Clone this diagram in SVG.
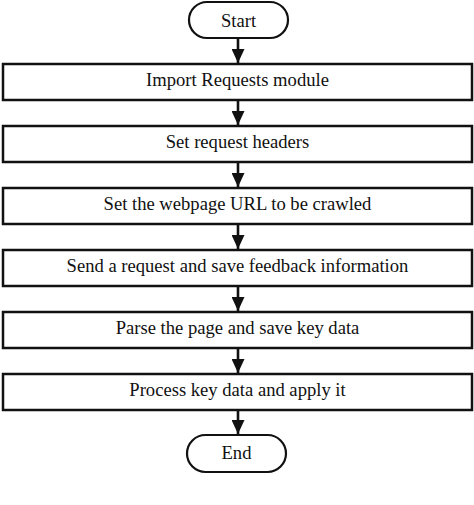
<svg xmlns="http://www.w3.org/2000/svg" width="474" height="505" viewBox="0 0 474 505">
<style>
.box{fill:#fff;stroke:#111;stroke-width:2.5}
.term{fill:#fff;stroke:#111;stroke-width:2.2}
.lbl{font-family:"Liberation Serif","Times New Roman",serif;font-size:18.6px;fill:#111;text-anchor:middle}
.conn{stroke:#111;stroke-width:2.6;fill:none;marker-end:url(#arr)}
</style>
<defs>
<marker id="arr" viewBox="0 0 14 13" refX="14" refY="6.5" markerWidth="14" markerHeight="13" markerUnits="userSpaceOnUse" orient="auto">
<path d="M0,0 L14,6.5 L0,13 z" fill="#111"/>
</marker>
</defs>
<rect width="474" height="505" fill="#fff"/>
<g id="start"><rect class="term" x="189" y="2" width="99" height="36" rx="18"/><text class="lbl" x="238.5" y="26.5">Start</text></g>
<g id="n1"><rect class="box" x="3" y="64" width="469" height="36"/><text class="lbl" x="237.5" y="85.5">Import Requests module</text></g>
<g id="n2"><rect class="box" x="3" y="126" width="469" height="36"/><text class="lbl" x="237.5" y="147.5">Set request headers</text></g>
<g id="n3"><rect class="box" x="3" y="188" width="469" height="36"/><text class="lbl" x="237.5" y="209.5">Set the webpage URL to be crawled</text></g>
<g id="n4"><rect class="box" x="3" y="250" width="469" height="36"/><text class="lbl" x="237.5" y="271.5">Send a request and save feedback information</text></g>
<g id="n5"><rect class="box" x="3" y="312" width="469" height="36"/><text class="lbl" x="237.5" y="333.5">Parse the page and save key data</text></g>
<g id="n6"><rect class="box" x="3" y="374" width="469" height="36"/><text class="lbl" x="237.5" y="395.5">Process key data and apply it</text></g>
<g id="end"><rect class="term" x="187" y="435" width="99" height="37" rx="18.5"/><text class="lbl" x="236.5" y="459">End</text></g>
<g id="connectors">
<path class="conn" d="M238,39 V63"/>
<path class="conn" d="M238,101 V125"/>
<path class="conn" d="M238,163 V187"/>
<path class="conn" d="M238,225 V249"/>
<path class="conn" d="M238,287 V311"/>
<path class="conn" d="M238,349 V373"/>
<path class="conn" d="M238,411 V434"/>
</g>
</svg>
